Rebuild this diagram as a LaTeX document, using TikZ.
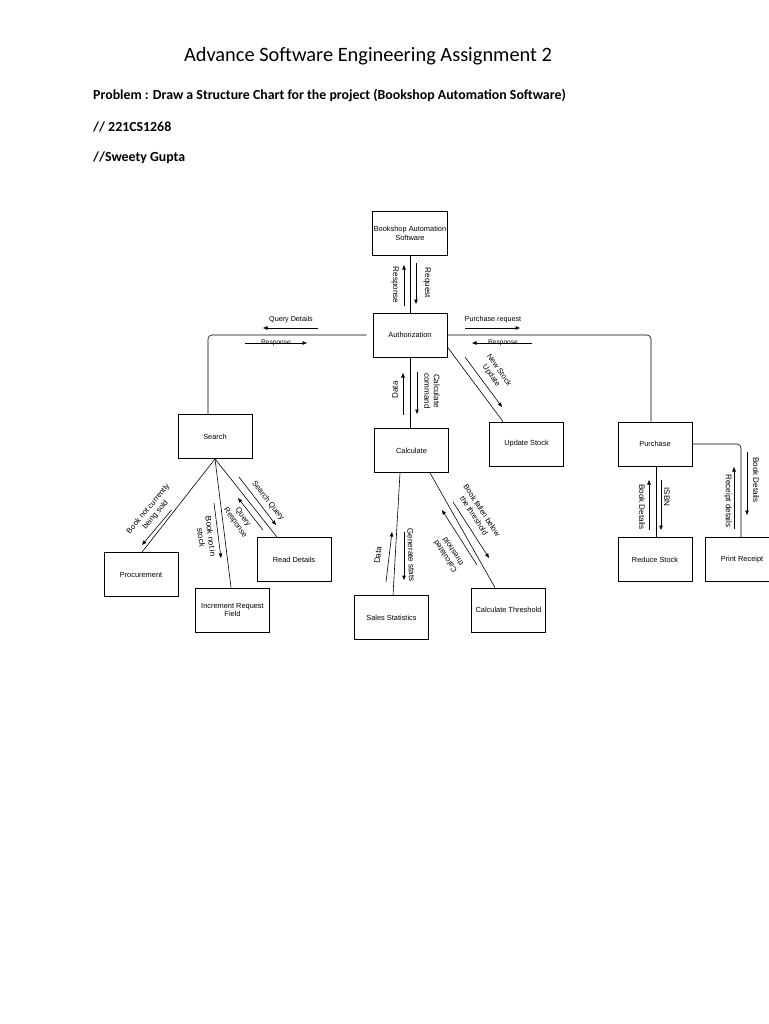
\documentclass[tikz,border=0pt]{standalone}
\usepackage{fontspec}
\setmainfont{Carlito}
\newfontfamily\arialf{Liberation Sans}
\usetikzlibrary{arrows.meta,calc}
\tikzset{
  box/.style={draw, line width=0.8pt, minimum width=74pt, minimum height=44pt, inner sep=1pt, align=center, font=\arialf\fontsize{7.4}{8.8}\selectfont},
  conn/.style={draw, line width=0.6pt},
  flow/.style={draw, line width=0.6pt, -{Triangle[length=4.5pt,width=3.5pt]}},
  lbl/.style={font=\arialf\fontsize{7.2}{8.4}\selectfont, align=center, inner sep=0pt},
  vlbl/.style={font=\arialf\fontsize{8.1}{9.6}\selectfont, align=center, inner sep=0pt},
  dlbl/.style={font=\arialf\fontsize{7.7}{9.4}\selectfont, align=center, inner sep=0pt},
  slbl/.style={font=\arialf\fontsize{6.6}{7.6}\selectfont, align=center, inner sep=0pt},
  hdr/.style={anchor=west, inner sep=0pt, font=\bfseries\fontsize{13.85}{16}\selectfont}
}
\begin{document}
\begin{tikzpicture}[x=1pt,y=-1pt]
\useasboundingbox[fill=white] (0,0) rectangle (768,1024);

% header texts
\node[inner sep=0pt, font=\fontsize{20.4}{24}\selectfont] (title) at (368,56) {Advance Software Engineering Assignment 2};
\node[hdr] (prob) at (93,96) {Problem : Draw a Structure Chart for the project (Bookshop Automation Software)};
\node[hdr] (roll) at (93,127) {// 221CS1268};
\node[hdr] (name) at (93,158) {//Sweety Gupta};

% boxes
\node[box] (bas) at (410,233.5) {Bookshop Automation\\Software};
\node[box] (auth) at (410,335) {Authorization};
\node[box] (search) at (215,436.5) {Search};
\node[box] (calc) at (411.5,450.5) {Calculate};
\node[box] (upd) at (526.5,444) {Update Stock};
\node[box] (purch) at (655,444) {Purchase};
\node[box] (proc) at (141,574.5) {Procurement};
\node[box] (incr) at (232.5,610) {Increment Request\\Field};
\node[box] (read) at (294,559.5) {Read Details};
\node[box] (sales) at (391.5,617.5) {Sales Statistics};
\node[box] (thr) at (508.5,610) {Calculate Threshold};
\node[box] (reduce) at (655,559.5) {Reduce Stock};
\node[box] (print) at (742,559.5) {Print Receipt};

% connectors
\draw[conn] (bas.south) -- (auth.north);
\draw[conn, rounded corners=4pt] ([xshift=-6pt]auth.west) -| ([xshift=-7pt]search.north);
\draw[conn, rounded corners=4pt] (auth.east) -| ([xshift=-4pt]purch.north);
\draw[conn] ([yshift=-12pt]auth.east) -- ([xshift=-23.5pt]upd.north);
\draw[conn] (auth.south) -- (auth.south |- calc.north);
\draw[conn] ([xshift=-11.5pt]calc.south) -- ([xshift=1.5pt]sales.north);
\draw[conn] ([xshift=18.5pt]calc.south) -- ([xshift=-13.5pt]thr.north);
\draw[conn] (search.south) -- ([xshift=1pt]proc.north);
\draw[conn] (search.south) -- ([xshift=-1.5pt]incr.north);
\draw[conn] (search.south) -- ([xshift=-17pt]read.north);
\draw[conn] ([xshift=1pt]purch.south) -- ([xshift=1pt]reduce.north);
\draw[conn, rounded corners=4pt] (purch.east) -| ([xshift=-1pt]print.north);

% data flows: BAS <-> Authorization
\coordinate (a1s) at (404,306); \coordinate (a1e) at (404,265);
\draw[flow] (a1s) -- (a1e);
\node[vlbl, rotate=-90] (l1) at (395,285) {Response};
\coordinate (a2s) at (416,263); \coordinate (a2e) at (416,304);
\draw[flow] (a2s) -- (a2e);
\node[vlbl, rotate=-90] (l2) at (427,283) {Request};

% Authorization <-> Search
\coordinate (a3s) at (318,328); \coordinate (a3e) at (263,328);
\draw[flow] (a3s) -- (a3e);
\node[lbl] (l3) at (291,320) {Query Details};
\coordinate (a4s) at (245,343); \coordinate (a4e) at (307,343);
\draw[flow] (a4s) -- (a4e);
\node[slbl] (l4) at (276,342.5) {Response};

% Authorization <-> Purchase
\coordinate (a5s) at (465,328); \coordinate (a5e) at (520,328);
\draw[flow] (a5s) -- (a5e);
\node[lbl] (l5) at (493,320) {Purchase request};
\coordinate (a6s) at (532,343); \coordinate (a6e) at (472,343);
\draw[flow] (a6s) -- (a6e);
\node[slbl] (l6) at (503,342.5) {Response};

% Authorization -> Update Stock
\coordinate (a7s) at (465,357); \coordinate (a7e) at (502,407);
\draw[flow] (a7s) -- (a7e);
\node[dlbl, rotate=-55] (l7) at (495,373) {New Stock\\Update};

% Authorization <-> Calculate
\coordinate (a8s) at (403,415); \coordinate (a8e) at (403,373);
\draw[flow] (a8s) -- (a8e);
\node[vlbl, rotate=90] (l8) at (395,390) {Data};
\coordinate (a9s) at (417,372); \coordinate (a9e) at (417,414);
\draw[flow] (a9s) -- (a9e);
\node[vlbl, rotate=-90] (l9) at (432,391) {Calculate\\command};

% Calculate <-> Sales Statistics
\coordinate (b1s) at (386,582); \coordinate (b1e) at (392,532);
\draw[flow] (b1s) -- (b1e);
\node[vlbl, rotate=83] (m1) at (378,555) {Data};
\coordinate (b2s) at (404,532); \coordinate (b2e) at (404,580);
\draw[flow] (b2s) -- (b2e);
\node[vlbl, rotate=-88] (m2) at (411,555) {Generate stats};

% Calculate <-> Calculate Threshold
\coordinate (b3s) at (453,502); \coordinate (b3e) at (489,558);
\draw[flow] (b3s) -- (b3e);
\node[dlbl, rotate=-57] (m3) at (478,513) {Book fallen below\\the threshold};
\coordinate (b4s) at (477,565); \coordinate (b4e) at (442,510);
\draw[flow] (b4s) -- (b4e);
\node[dlbl, rotate=123] (m4) at (449,554) {Calculated\\threshold};

% Search subtree
\coordinate (c1s) at (171.5,510); \coordinate (c1e) at (142,545);
\draw[flow] (c1s) -- (c1e);
\node[dlbl, rotate=50] (n1) at (152,512) {Book not currently\\being sold};
\coordinate (c2s) at (214,503); \coordinate (c2e) at (221,558);
\draw[flow] (c2s) -- (c2e);
\node[vlbl, rotate=-83] (n2) at (206,537) {Book not in\\stock};
\coordinate (c3s) at (239,477); \coordinate (c3e) at (276,525);
\draw[flow] (c3s) -- (c3e);
\node[dlbl, rotate=-52] (n3) at (268,501) {Search Query};
\coordinate (c4s) at (263,530); \coordinate (c4e) at (238,498);
\draw[flow] (c4s) -- (c4e);
\node[dlbl, rotate=-55] (n4) at (239,520) {Query\\Response};

% Purchase subtree
\coordinate (d1s) at (649,530); \coordinate (d1e) at (649,480);
\draw[flow] (d1s) -- (d1e);
\node[vlbl, rotate=-90] (p1) at (642,507) {Book Details};
\coordinate (d2s) at (661,480); \coordinate (d2e) at (661,530);
\draw[flow] (d2s) -- (d2e);
\node[vlbl, rotate=-90] (p2) at (667,497) {ISBN};
\coordinate (d3s) at (747,452); \coordinate (d3e) at (747,515);
\draw[flow] (d3s) -- (d3e);
\node[vlbl, rotate=-90] (p3) at (756,480) {Book Details};
\coordinate (d4s) at (734,529); \coordinate (d4e) at (734,467);
\draw[flow] (d4s) -- (d4e);
\node[vlbl, rotate=-90] (p4) at (728,501) {Receipt details};
\end{tikzpicture}
\end{document}
